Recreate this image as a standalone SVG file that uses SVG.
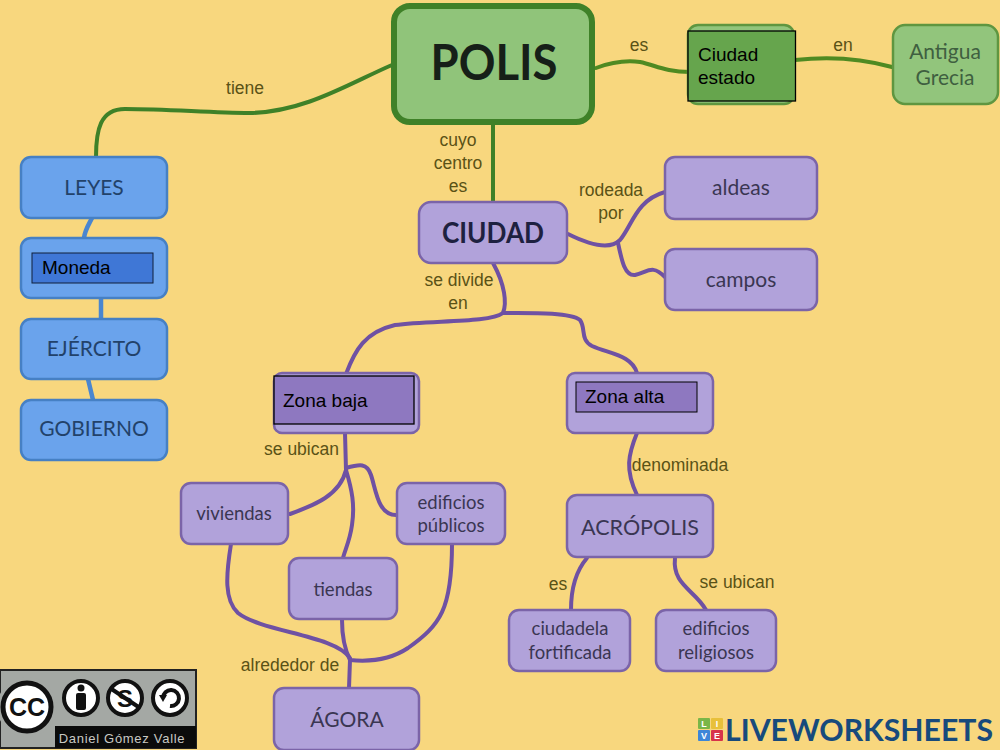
<svg xmlns="http://www.w3.org/2000/svg" width="1000" height="750" viewBox="0 0 1000 750">
<style>
text{font-family:"Liberation Sans",Arial,sans-serif}
.g{fill:none;stroke:#4f8a22;stroke-width:4;stroke-linecap:round}
.b{fill:none;stroke:#4a86d0;stroke-width:4.500}
.p{fill:none;stroke:#6f51a3;stroke-width:4;stroke-linecap:round}
.nb{fill:#6aa3ec;stroke:#4680c4;stroke-width:2.500}
.np{fill:#b1a2da;stroke:#7b64a8;stroke-width:2.500}
.ng{fill:#92c57c;stroke:#5f9640;stroke-width:2.500}
.t{font-family:"Lato","Liberation Sans",sans-serif;text-anchor:middle;fill:#3a3652;font-size:18.500px}
.tb{font-size:21px;fill:#22426a}
.tg{fill:#3f5f40;font-size:21px}
.tk{font-family:"Liberation Sans",sans-serif;text-anchor:middle;font-size:17.500px;fill:#5a5216}
.ov{stroke:#000;stroke-width:1.300}
.ot{font-size:19px;fill:#000}
</style>
<rect width="1000" height="750" fill="#f8d77e"/>
<g id="connectors">
<path class="g" style="stroke:#3f8128" d="M392 65C350 83 305 112 250 113C210 113 170 109 125 109C100 109 96 130 96 157"/>
<path class="g" d="M596 68C612 62 625 60 640 62C655 65 665 72 690 72"/>
<path class="g" d="M795 60C830 56 860 58 892 67"/>
<path class="g" style="stroke:#3f8128" d="M493 122V202"/>
<path class="b" d="M92 218C88 226 85 230 84 238M101 298V319M88 379L93 400"/>
<path class="p" d="M568 234C590 245 610 250 620 240C632 226 636 200 665 192"/>
<path class="p" d="M618 243C622 262 625 276 635 275C648 272 652 264 665 277"/>
<path class="p" d="M493 263C505 285 507 303 503 313C490 323 430 320 395 325C365 332 355 350 346 374"/>
<path class="p" d="M503 313C530 313 570 312 580 320C586 328 580 340 592 346C610 354 632 355 637 373"/>
<path class="p" d="M345 433L346 470C340 495 315 505 290 514"/>
<path class="p" d="M346 470C352 490 355 505 352 525C350 540 345 550 343 558"/>
<path class="p" d="M346 468C360 464 367 463 371 475C376 490 378 515 396 515"/>
<path class="p" d="M231 544C226 575 224 600 238 613C262 632 335 635 350 658"/>
<path class="p" d="M342 620C342 635 344 648 350 660C370 662 390 660 408 648C440 625 452 610 452 544"/>
<path class="p" d="M350 660L349 688"/>
<path class="p" d="M637 433C628 455 625 470 637 495"/>
<path class="p" d="M587 558C575 572 571 590 571 610"/>
<path class="p" d="M675 558C672 585 695 590 706 610"/>
</g>
<g id="polis"><rect x="394" y="6" width="198" height="116" rx="16" fill="#90c47a" stroke="#3f8128" stroke-width="6"/><text x="494" y="80" text-anchor="middle" font-size="50" fill="#161f18" font-weight="700" style="font-family:'Lato','Liberation Sans',sans-serif" textLength="127" lengthAdjust="spacingAndGlyphs">POLIS</text></g>
<g id="ciudad-estado"><rect x="688" y="25" width="106" height="79" rx="10" class="ng"/><rect x="688" y="31" width="107.500" height="70" fill="#66a54d" class="ov"/><text class="ot" x="698" y="61">Ciudad</text><text class="ot" x="698" y="84">estado</text></g>
<g id="antigua-grecia"><rect x="893" y="25" width="105" height="79" rx="12" class="ng"/><text class="t tg" x="945" y="59">Antigua</text><text class="t tg" x="945" y="85">Grecia</text></g>
<g id="leyes"><rect x="21" y="157" width="146" height="61" rx="10" class="nb"/><text class="t tb" x="94" y="195">LEYES</text></g>
<g id="moneda"><rect x="21" y="238" width="146" height="60" rx="10" class="nb"/><rect x="32" y="253" width="121" height="30" fill="#3f77d6" stroke="#10203a" stroke-width="1"/><text class="ot" x="42" y="274">Moneda</text></g>
<g id="ejercito"><rect x="21" y="319" width="146" height="60" rx="10" class="nb"/><text class="t tb" x="94" y="356">EJÉRCITO</text></g>
<g id="gobierno"><rect x="21" y="400" width="146" height="60" rx="10" class="nb"/><text class="t tb" x="94" y="436">GOBIERNO</text></g>
<g id="ciudad"><rect x="419" y="202" width="148" height="61" rx="12" class="np"/><text x="493" y="243" text-anchor="middle" font-size="29" fill="#1e2140" style="font-family:'Lato','Liberation Sans',sans-serif" font-weight="700" textLength="102" lengthAdjust="spacingAndGlyphs">CIUDAD</text></g>
<g id="aldeas"><rect x="665" y="157" width="152" height="62" rx="10" class="np"/><text class="t" x="741" y="195" style="font-size:21px">aldeas</text></g>
<g id="campos"><rect x="665" y="249" width="152" height="61" rx="10" class="np"/><text class="t" x="741" y="287" style="font-size:21px">campos</text></g>
<g id="zona-baja"><rect x="274" y="373" width="145" height="60" rx="8" class="np"/><rect x="274" y="376" width="140" height="48" fill="#8e78c0" class="ov"/><text class="ot" x="283" y="407">Zona baja</text></g>
<g id="zona-alta"><rect x="567" y="373" width="146" height="60" rx="8" class="np"/><rect x="576" y="382" width="121" height="30" fill="#8e78c0" stroke="#000" stroke-width="1"/><text class="ot" x="585" y="403">Zona alta</text></g>
<g id="viviendas"><rect x="181" y="483" width="107" height="61" rx="10" class="np"/><text class="t" x="234" y="520">viviendas</text></g>
<g id="edificios-publicos"><rect x="397" y="483" width="108" height="61" rx="10" class="np"/><text class="t" x="451" y="509">edificios</text><text class="t" x="451" y="532">públicos</text></g>
<g id="tiendas"><rect x="289" y="558" width="108" height="61" rx="10" class="np"/><text class="t" x="343" y="596">tiendas</text></g>
<g id="agora"><rect x="274" y="688" width="145" height="62" rx="10" class="np"/><text class="t" x="347" y="727" style="font-size:21px">ÁGORA</text></g>
<g id="acropolis"><rect x="567" y="495" width="146" height="62" rx="10" class="np"/><text class="t" x="640" y="535" style="font-size:21.500px">ACRÓPOLIS</text></g>
<g id="ciudadela"><rect x="509" y="610" width="121" height="61" rx="10" class="np"/><text class="t" x="570" y="635">ciudadela</text><text class="t" x="570" y="659">fortificada</text></g>
<g id="edificios-religiosos"><rect x="656" y="610" width="120" height="61" rx="10" class="np"/><text class="t" x="716" y="635">edificios</text><text class="t" x="716" y="659">religiosos</text></g>
<g id="labels">
<text class="tk" x="245" y="94">tiene</text>
<text class="tk" x="639" y="51">es</text>
<text class="tk" x="843" y="51">en</text>
<text class="tk" x="458" y="146">cuyo</text><text class="tk" x="458" y="169">centro</text><text class="tk" x="458" y="192">es</text>
<text class="tk" x="611" y="196">rodeada</text><text class="tk" x="611" y="219">por</text>
<text class="tk" x="459" y="286">se divide</text><text class="tk" x="458" y="309">en</text>
<text class="tk" x="301.500" y="455">se ubican</text>
<text class="tk" x="680" y="471">denominada</text>
<text class="tk" x="558" y="590">es</text>
<text class="tk" x="737" y="588">se ubican</text>
<text class="tk" x="290" y="671">alrededor de</text>
</g>
<g id="cc-badge">
<rect x="0" y="670" width="196" height="78" fill="#a4a8a4" stroke="#222" stroke-width="2"/>
<rect x="55" y="726" width="141" height="22" fill="#0b0b0b"/>
<circle cx="27" cy="707" r="30" fill="#a4a8a4"/>
<circle cx="27" cy="707" r="24" fill="#fff" stroke="#111" stroke-width="5"/>
<text x="27" y="716" text-anchor="middle" font-size="25" font-weight="700" fill="#111">CC</text>
<circle cx="81" cy="698" r="17" fill="#fff" stroke="#111" stroke-width="4"/>
<circle cx="81" cy="688" r="3.500" fill="#111"/><rect x="76" y="693" width="10" height="17" rx="2" fill="#111"/>
<circle cx="125" cy="698" r="17" fill="#fff" stroke="#111" stroke-width="4"/>
<text x="125" y="707" text-anchor="middle" font-size="24" font-weight="700" fill="#111">S</text><path d="M110 688L140 708" stroke="#111" stroke-width="4"/>
<circle cx="170" cy="698" r="17" fill="#fff" stroke="#111" stroke-width="4"/>
<path d="M163 698A8 8 0 1 1 170 706" fill="none" stroke="#111" stroke-width="4"/><path d="M159 695L167 695L163 702Z" fill="#111"/>
<text x="122" y="743" text-anchor="middle" font-size="13" fill="#c9c9c4" letter-spacing=".7">Daniel Gómez Valle</text>
</g>
<g id="liveworksheets">
<rect x="698" y="718" width="12" height="11" rx="1" fill="#7ab648"/><rect x="711" y="718" width="12" height="11" rx="1" fill="#e8c03a"/><rect x="698" y="730" width="12" height="11" rx="1" fill="#3d86d8"/><rect x="711" y="730" width="12" height="11" rx="1" fill="#d8334a"/>
<text x="704" y="727" text-anchor="middle" font-size="9" font-weight="700" fill="#fff">L</text><text x="717" y="727" text-anchor="middle" font-size="9" font-weight="700" fill="#fff">I</text><text x="704" y="739" text-anchor="middle" font-size="9" font-weight="700" fill="#fff">V</text><text x="717" y="739" text-anchor="middle" font-size="9" font-weight="700" fill="#fff">E</text>
<text x="725" y="741" font-size="31" font-weight="700" fill="#174a7c" style="font-family:'Lato','Liberation Sans',sans-serif" textLength="268" lengthAdjust="spacingAndGlyphs">LIVEWORKSHEETS</text>
</g>
</svg>
